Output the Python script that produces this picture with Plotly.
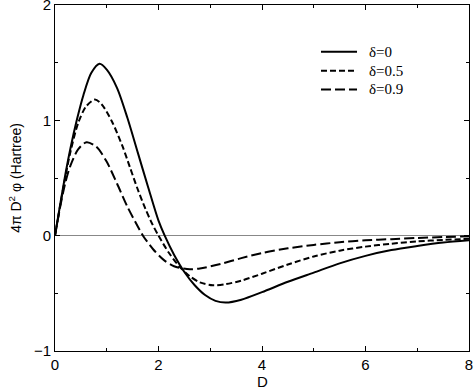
import plotly.graph_objects as go

# delta = 0 (solid)
d0_x = [0, 0.1, 0.2, 0.3, 0.42, 0.55, 0.7, 0.86, 1.0, 1.2, 1.4, 1.6, 1.8, 2.0, 2.12, 2.3, 2.5, 2.7, 2.9, 3.1, 3.3, 3.6, 4.0, 4.5, 5.0, 5.5, 6.0, 6.5, 7.0, 7.5, 8.0]
d0_y = [0, 0.27, 0.53, 0.76, 1.0, 1.22, 1.41, 1.49, 1.44, 1.28, 1.02, 0.72, 0.42, 0.13, 0.0, -0.165, -0.315, -0.43, -0.515, -0.565, -0.58, -0.555, -0.49, -0.40, -0.32, -0.24, -0.175, -0.125, -0.09, -0.06, -0.04]

# delta = 0.5 (short dash)
d5_x = [0, 0.1, 0.2, 0.3, 0.45, 0.6, 0.77, 0.9, 1.1, 1.3, 1.45, 1.6, 1.74, 1.87, 2.0, 2.2, 2.4, 2.6, 2.8, 3.05, 3.3, 3.6, 4.0, 4.5, 5.0, 5.5, 6.0, 6.5, 7.0, 7.5, 8.0]
d5_y = [0, 0.26, 0.51, 0.73, 0.98, 1.12, 1.18, 1.14, 0.99, 0.78, 0.59, 0.40, 0.24, 0.11, 0.0, -0.148, -0.265, -0.35, -0.405, -0.43, -0.42, -0.39, -0.33, -0.25, -0.18, -0.13, -0.095, -0.07, -0.05, -0.037, -0.027]

# delta = 0.9 (long dash)
d9_x = [0, 0.1, 0.2, 0.3, 0.45, 0.61, 0.8, 1.0, 1.2, 1.4, 1.6, 1.7, 1.9, 2.1, 2.3, 2.55, 2.8, 3.2, 3.6, 4.0, 4.5, 5.0, 5.5, 6.0, 6.5, 7.0, 7.5, 8.0]
d9_y = [0, 0.25, 0.46, 0.61, 0.75, 0.81, 0.77, 0.64, 0.45, 0.25, 0.08, 0.0, -0.12, -0.21, -0.265, -0.29, -0.285, -0.245, -0.195, -0.15, -0.11, -0.08, -0.057, -0.04, -0.03, -0.02, -0.012, -0.006]

labels = ["δ=0", "δ=0.5", "δ=0.9"]
dashes = ["solid", "6px,3px", "10px,4px"]
x_ticks = [0, 2, 4, 6, 8]
y_ticks = [-1, 0, 1, 2]

fig = go.Figure()
for xs, ys, name, dash in zip([d0_x, d5_x, d9_x], [d0_y, d5_y, d9_y], labels, dashes):
    fig.add_trace(go.Scatter(x=xs, y=ys, mode="lines", name=name, showlegend=False,
                             line=dict(color="black", width=2, dash=dash, shape="spline", smoothing=0.8)))

# manual legend (line samples + labels) in paper coordinates
leg_rows = [0.865, 0.810, 0.756]
for row, name, dash in zip(leg_rows, labels, dashes):
    fig.add_shape(type="line", xref="paper", yref="paper", x0=0.6425, x1=0.7295, y0=row, y1=row,
                  line=dict(color="black", width=2, dash=dash))
    fig.add_annotation(xref="paper", yref="paper", x=0.7536, y=row, text=name, showarrow=False,
                       xanchor="left", yanchor="middle",
                       font=dict(family="Liberation Serif, Times New Roman", size=15, color="black"))

axis_common = dict(showline=True, linecolor="black", linewidth=1, mirror="allticks",
                   ticks="inside", ticklen=5, tickcolor="black", showgrid=False,
                   automargin=False, ticklabeloverflow="allow",
                   tickfont=dict(family="Liberation Sans, Arial", size=15, color="black"))

fig.update_xaxes(range=[0, 8], tickvals=x_ticks, zeroline=False,
                 minor=dict(dtick=1, ticks="inside", ticklen=3, tickcolor="black"),
                 **axis_common)
fig.update_yaxes(range=[-1, 2], tickvals=y_ticks, zeroline=True, zerolinecolor="#888888", zerolinewidth=1,
                 minor=dict(dtick=0.5, ticks="inside", ticklen=3, tickcolor="black"),
                 **axis_common)

# axis titles
fig.add_annotation(xref="paper", yref="paper", x=0.5, y=-0.087, text="D", showarrow=False,
                   xanchor="center", yanchor="middle",
                   font=dict(family="Liberation Sans, Arial", size=15, color="black"))
fig.add_annotation(xref="paper", yref="paper", x=-0.097, y=0.5, text="4π D<sup>2</sup> φ (Hartree)",
                   showarrow=False, textangle=-90, xanchor="center", yanchor="middle",
                   font=dict(family="Liberation Sans, Arial", size=14, color="black"))

fig.update_layout(
    width=474, height=390,
    margin=dict(l=55, r=5, t=5, b=39),
    plot_bgcolor="white", paper_bgcolor="white",
    showlegend=False,
)

fig.write_html("out.html", config={"displayModeBar": False},
               post_script="document.body.style.margin='0';")
